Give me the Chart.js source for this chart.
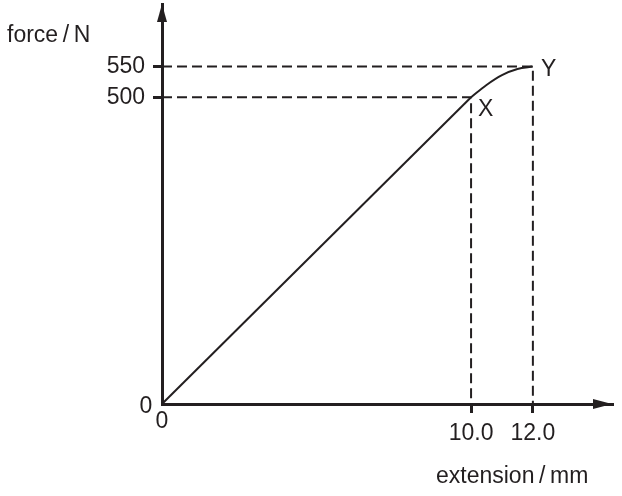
<!DOCTYPE html>
<html>
<head>
<meta charset="utf-8">
<script src="https://cdn.jsdelivr.net/npm/chart.js@4"></script>
<style>
  html, body { margin: 0; padding: 0; background: #fff; }
</style>
</head>
<body>
<canvas id="graph" width="622" height="496"></canvas>
<script>
// values
var extension = [0, 10, 10.5, 11, 11.5, 12];   // mm
var force = [0, 500, 520, 536, 546, 550];      // N
var xTicks = [10, 12];
var yTicks = [500, 550];
var pointNames = ['X', 'Y'];
var namedIndex = [1, 5];

var ink = '#231f20';
var font = "'Liberation Sans', Arial, sans-serif";

function pts(from, to) {
    var out = [];
    for (var i = from; i <= to; i++) out.push({x: extension[i], y: force[i]});
    return out;
}

// dashed guides from each named point to both axes
var guides = namedIndex.map(function (i) {
    return {
        data: [{x: 0, y: force[i]}, {x: extension[i], y: force[i]}, {x: extension[i], y: 0}],
        borderColor: ink,
        borderWidth: 2,
        borderDash: [10, 5],
        pointRadius: 0,
        tension: 0
    };
});

var decorations = {
    id: 'decorations',
    afterDraw: function (chart) {
        var c = chart.ctx, a = chart.chartArea;
        var xs = chart.scales.x, ys = chart.scales.y;
        c.save();
        c.fillStyle = ink;
        // arrow heads
        c.beginPath();
        c.moveTo(a.left, a.top);
        c.lineTo(a.left - 5, a.top + 18);
        c.lineTo(a.left + 5, a.top + 18);
        c.closePath();
        c.fill();
        c.beginPath();
        c.moveTo(a.right, a.bottom);
        c.lineTo(a.right - 19, a.bottom - 5);
        c.lineTo(a.right - 19, a.bottom + 5);
        c.closePath();
        c.fill();

        c.font = '23px ' + font;
        c.textBaseline = 'alphabetic';
        c.textAlign = 'left';
        c.fillText('force\u2009/\u2009N', 7, 42);
        c.fillText('extension\u2009/\u2009mm', 436, 483);

        // point names
        c.fillText(pointNames[0], xs.getPixelForValue(extension[namedIndex[0]]) + 7,
            ys.getPixelForValue(force[namedIndex[0]]) + 19);
        c.fillText(pointNames[1], xs.getPixelForValue(extension[namedIndex[1]]) + 8,
            ys.getPixelForValue(force[namedIndex[1]]) + 9);

        // zeros at the origin
        c.textAlign = 'center';
        c.textBaseline = 'middle';
        c.fillText('0', a.left - 16, a.bottom + 3);
        c.fillText('0', a.left, a.bottom + 18);
        c.restore();
    }
};

function noPad(s) {
    s.paddingTop = 0; s.paddingBottom = 0; s.paddingLeft = 0; s.paddingRight = 0;
}

var ctx = document.getElementById('graph').getContext('2d');
var graph = new Chart(ctx, {
    type: 'scatter',
    data: {
        datasets: [{
            data: pts(0, 1),
            borderColor: ink,
            borderWidth: 2,
            pointRadius: 0,
            tension: 0
        }, {
            data: pts(1, 5),
            borderColor: ink,
            borderWidth: 2,
            pointRadius: 0,
            cubicInterpolationMode: 'monotone'
        }].concat(guides)
    },
    options: {
        responsive: false,
        animation: false,
        showLine: true,
        layout: {padding: {top: 4, right: 10, left: 0, bottom: 0}},
        plugins: {legend: {display: false}, tooltip: {enabled: false}},
        scales: {
            x: {
                type: 'linear',
                min: 0,
                max: 14.56,
                afterFit: function (s) { s.height = 92; noPad(s); },
                afterBuildTicks: function (s) {
                    s.ticks = xTicks.map(function (v) { return {value: v}; });
                },
                border: {display: true, color: ink, width: 3},
                grid: {drawOnChartArea: false, drawTicks: true, tickLength: 9, lineWidth: 3, color: ink},
                ticks: {
                    color: ink,
                    padding: 7,
                    font: {family: font, size: 23},
                    callback: function (v) { return v.toFixed(1); }
                }
            },
            y: {
                type: 'linear',
                min: 0,
                max: 652,
                afterFit: function (s) { s.width = 162; noPad(s); },
                afterBuildTicks: function (s) {
                    s.ticks = yTicks.map(function (v) { return {value: v}; });
                },
                border: {display: true, color: ink, width: 3},
                grid: {drawOnChartArea: false, drawTicks: true, tickLength: 9, lineWidth: 3, color: ink},
                ticks: {
                    color: ink,
                    padding: 8,
                    font: {family: font, size: 23},
                    callback: function (v) { return String(v); }
                }
            }
        }
    },
    plugins: [decorations]
});
</script>
</body>
</html>
